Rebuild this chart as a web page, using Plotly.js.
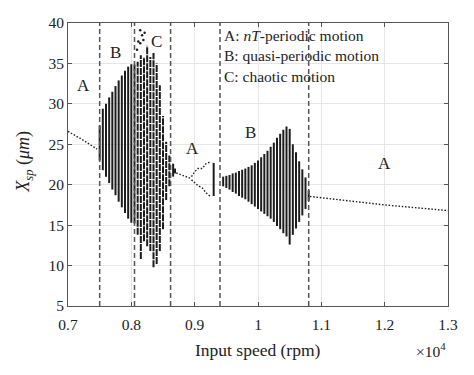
<!DOCTYPE html>
<html><head><meta charset="utf-8">
<script src="https://cdn.plot.ly/plotly-3.0.1.min.js"></script>
<style>html,body{margin:0;padding:0;background:#fff}#chart{width:474px;height:375px}</style>
</head><body><div id="chart"></div>
<script>
// Input speed in units of 10^4 rpm, X_sp in micrometres
// Region A (1T-periodic, low speed)
const aLowSpeed = [0.700, 0.720, 0.746];
const aLowX = [26.6, 25.7, 24.4];
// Region B1 quasi-periodic bars
const b1Speed = [0.750,0.755,0.760,0.765,0.770,0.775,0.780,0.785,0.790,0.795,0.800];
const b1Low  = [23.0,21.8,21.0,20.2,19.4,18.7,17.9,17.2,16.5,15.8,15.3];
const b1High = [27.3,29.4,30.0,30.8,31.5,32.2,32.9,33.5,34.1,34.6,34.9];
// Region C chaotic bars
const cSpeed = [0.805,0.810,0.815,0.820,0.825,0.830,0.835,0.840,0.845,0.850,0.855,0.860];
const cLow  = [15.2,13.8,10.8,13.0,12.4,11.8,9.8,10.2,11.8,14.5,18.1,19.8];
const cHigh = [35.0,35.2,36.0,35.8,37.2,35.8,36.3,35.0,32.3,28.5,25.3,23.6];
// Chaotic scattered points above the bars
const cDotSpeed = [0.809,0.811,0.814,0.814,0.817,0.819,0.821];
const cDotX = [36.7,37.7,37.5,39.1,38.5,37.9,38.8];
// Short bars after the chaotic region
const sSpeed = [0.866,0.869,0.930];
const sLow  = [21.0,21.4,18.6];
const sHigh = [22.6,22.0,22.7];
// Region A (periodic, middle)
const aMidSpeed = [0.871,0.882,0.893];
const aMidX = [21.45,21.1,20.8];
const upSpeed = [0.895,0.900,0.905,0.912,0.918,0.924];
const upX = [21.0,21.6,22.0,22.0,22.6,22.8];
const dnSpeed = [0.895,0.900,0.905,0.912,0.918,0.924];
const dnX = [20.6,20.2,19.9,19.6,19.0,18.6];
// Region B2 quasi-periodic bars
const b2Speed = [0.945,0.950,0.955,0.960,0.965,0.970,0.975,0.980,0.985,0.990,0.995,1.000,1.005,1.010,1.015,1.020,1.025,1.030,1.035,1.040,1.045,1.050,1.055,1.060,1.065,1.070,1.075,1.080];
const b2High = [21.0,21.1,21.2,21.4,21.5,21.7,21.85,22.0,22.2,22.4,22.7,23.0,23.4,23.8,24.2,24.7,25.2,25.8,26.3,26.8,27.2,26.9,25.0,24.0,22.9,21.9,20.9,19.3];
const b2Low  = [19.8,19.6,19.4,19.1,18.9,18.6,18.4,18.2,17.9,17.6,17.3,17.0,16.7,16.4,16.1,15.8,15.4,14.9,14.5,14.0,13.6,12.6,13.8,14.6,15.4,16.2,17.0,18.0];
// Region A (periodic, high speed)
const aHighSpeed = [1.082, 1.200, 1.300];
const aHighX = [18.55, 17.5, 16.8];
// Region boundaries
const boundaries = [0.750, 0.805, 0.862, 0.940, 1.080];
// Tick labels
const xTicks = [0.7,0.8,0.9,1.0,1.1,1.2,1.3];
const xTickText = ['0.7','0.8','0.9','1','1.1','1.2','1.3'];
const yTicks = [5,10,15,20,25,30,35,40];

function bars(sp, lo, hi){
  const x=[], y=[];
  for(let i=0;i<sp.length;i++){ x.push(sp[i],sp[i],null); y.push(lo[i],hi[i],null); }
  return {x, y};
}
const FONT = 'Liberation Serif, Times New Roman, serif';
const barColor = '#1c1c1c';
const b1 = bars(b1Speed,b1Low,b1High), cc = bars(cSpeed,cLow,cHigh), ss = bars(sSpeed,sLow,sHigh), b2 = bars(b2Speed,b2Low,b2High);
const dotLine = (x,y)=>({x, y, mode:'lines', type:'scatter', line:{color:barColor, width:1.4, dash:'1.5px,1.8px'}, hoverinfo:'skip'});
const traces = [
  dotLine(aLowSpeed,aLowX),
  {x:b1.x, y:b1.y, mode:'lines', type:'scatter', line:{color:barColor,width:2}, connectgaps:false},
  {x:cc.x, y:cc.y, mode:'lines', type:'scatter', line:{color:barColor,width:2, dash:'7px,1px'}, connectgaps:false},
  {x:cDotSpeed, y:cDotX, mode:'markers', type:'scatter', marker:{color:barColor,size:2.5}},
  {x:ss.x, y:ss.y, mode:'lines', type:'scatter', line:{color:barColor,width:2}, connectgaps:false},
  dotLine(aMidSpeed,aMidX), dotLine(upSpeed,upX), dotLine(dnSpeed,dnX),
  {x:b2.x, y:b2.y, mode:'lines', type:'scatter', line:{color:barColor,width:2}, connectgaps:false},
  dotLine(aHighSpeed,aHighX)
];
const shapes = boundaries.map(b=>({type:'line', xref:'x', yref:'paper', x0:b, x1:b, y0:0, y1:1,
  line:{color:'#555', width:1.5, dash:'5px,3px'}}));
const lab = (x,y,t,sz,xa)=>({x, y, xref:'x', yref:'y', text:t, showarrow:false, xanchor:xa||'center', yanchor:'middle', font:{family:FONT,size:sz||17,color:'#222'}});
const annotations = [
  lab(0.725,32.3,'A'), lab(0.775,36.3,'B'), lab(0.840,37.7,'C'),
  lab(0.896,24.5,'A'), lab(0.988,26.5,'B'), lab(1.200,22.6,'A'),
  lab(0.943,38.5,'A: <i>nT</i>-periodic motion',15.5,'left'),
  lab(0.943,36.0,'B: quasi-periodic motion',15.5,'left'),
  lab(0.943,33.4,'C: chaotic motion',15.5,'left'),
  {xref:'paper', yref:'paper', x:1.0, y:-0.155, text:'×10<sup>4</sup>', showarrow:false, xanchor:'right', yanchor:'middle', font:{family:FONT,size:15.5,color:'#222'}},
  {xref:'paper', yref:'paper', x:0.5, y:-0.155, text:'Input speed (rpm)', showarrow:false, xanchor:'center', yanchor:'middle', font:{family:FONT,size:17.5,color:'#222'}},
  {xref:'paper', yref:'paper', x:-0.113, y:0.51, text:'<i>X</i><sub><i>sp</i></sub> (<i>μm</i>)', textangle:-90, showarrow:false, xanchor:'center', yanchor:'middle', font:{family:FONT,size:18,color:'#222'}}
];
const layout = {
  width:474, height:375, margin:{l:68, r:26, t:23, b:69},
  paper_bgcolor:'#fff', plot_bgcolor:'#fff', showlegend:false,
  font:{family:FONT, size:15, color:'#222'},
  xaxis:{range:[0.7,1.3], tickvals:xTicks, ticktext:xTickText, showgrid:true, gridcolor:'#e6e6e6', zeroline:false,
    showline:true, linecolor:'#555', linewidth:1, mirror:'ticks', ticks:'inside', ticklen:4, tickcolor:'#555',
    ticklabelstandoff:4, tickfont:{family:FONT,size:15.5,color:'#222'}},
  yaxis:{range:[5,40], tickvals:yTicks, showgrid:true, gridcolor:'#e6e6e6', zeroline:false,
    showline:true, linecolor:'#555', linewidth:1, mirror:'ticks', ticks:'inside', ticklen:4, tickcolor:'#555',
    tickfont:{family:FONT,size:15.5,color:'#222'}},
  shapes, annotations
};
Plotly.newPlot('chart', traces, layout, {displayModeBar:false, staticPlot:true});
</script></body></html>
